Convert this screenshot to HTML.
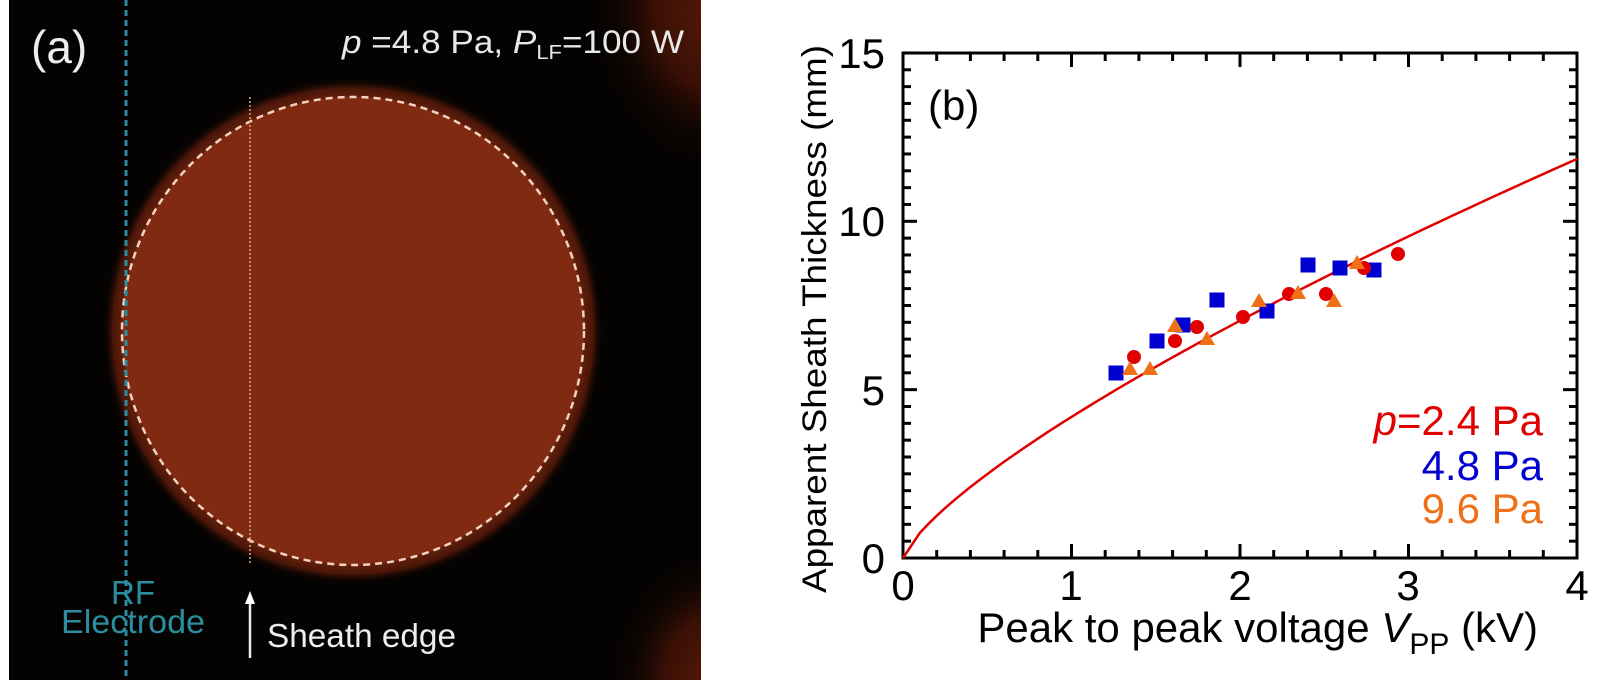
<!DOCTYPE html>
<html><head><meta charset="utf-8"><style>
html,body{margin:0;background:#fff;width:1600px;height:680px;overflow:hidden}
svg{display:block}
text{font-family:"Liberation Sans",Arial,sans-serif}
</style></head><body>
<svg width="1600" height="680" viewBox="0 0 1600 680">
<defs>
<radialGradient id="glow" cx="0.5" cy="0.5" r="0.5">
<stop offset="0.88" stop-color="#7f2a10"/>
<stop offset="0.96" stop-color="#4a1608"/>
<stop offset="1" stop-color="#0a0302" stop-opacity="0"/>
</radialGradient>
<radialGradient id="corner" cx="0.5" cy="0.5" r="0.5">
<stop offset="0" stop-color="#5a1a08"/>
<stop offset="0.5" stop-color="#3a1005"/>
<stop offset="1" stop-color="#050302" stop-opacity="0"/>
</radialGradient>
<clipPath id="pa"><rect x="9" y="0" width="692" height="680"/></clipPath>
</defs>
<g clip-path="url(#pa)">
<rect x="9" y="0" width="692" height="680" fill="#050302"/>
<ellipse cx="720" cy="10" rx="130" ry="160" fill="url(#corner)"/>
<ellipse cx="720" cy="680" rx="110" ry="130" fill="url(#corner)"/>
<ellipse cx="353" cy="331" rx="250" ry="253" fill="url(#glow)"/>
<ellipse cx="353" cy="331" rx="231" ry="234" fill="#802b11"/>
<ellipse cx="353" cy="331" rx="231" ry="234" fill="none" stroke="#f3d2c2" stroke-width="2.5" stroke-dasharray="7 5"/>
<line x1="126" y1="0" x2="126" y2="680" stroke="#2a8ea0" stroke-width="3" stroke-dasharray="6 4"/>
<line x1="250" y1="97" x2="250" y2="565" stroke="#d9a890" stroke-width="1.5" stroke-dasharray="2 2"/>
<line x1="250" y1="600" x2="250" y2="658" stroke="#e8e8e8" stroke-width="2.5"/>
<polygon points="245,604 255,604 250,591" fill="#fff"/>
<text x="31" y="63" font-size="46" fill="#eee">(a)</text>
<text x="342" y="53" font-size="32" fill="#e8e8e8" textLength="342" lengthAdjust="spacingAndGlyphs"><tspan font-style="italic">p</tspan> =4.8 Pa, <tspan font-style="italic">P</tspan><tspan font-size="20" dy="6">LF</tspan><tspan dy="-6">=100 W</tspan></text>
<text x="133" y="604" font-size="33" fill="#2a8ea0" text-anchor="middle">RF</text>
<text x="61" y="633" font-size="33" fill="#2a8ea0" textLength="144" lengthAdjust="spacingAndGlyphs">Electrode</text>
<text x="267" y="647" font-size="33" fill="#eee" textLength="189" lengthAdjust="spacingAndGlyphs">Sheath edge</text>
</g>

<rect x="903" y="53" width="674" height="505" fill="none" stroke="#000" stroke-width="3"/>
<g id="ticks" stroke="#000" stroke-width="3"></g>
<path id="curve" fill="none" stroke="#e00000" stroke-width="2.5"/>
<g id="pts"></g>
<g font-size="42" fill="#000">
<text x="885" y="68" text-anchor="end">15</text>
<text x="885" y="236" text-anchor="end">10</text>
<text x="885" y="405" text-anchor="end">5</text>
<text x="885" y="573" text-anchor="end">0</text>
<text x="903" y="600" text-anchor="middle">0</text>
<text x="1071" y="600" text-anchor="middle">1</text>
<text x="1240" y="600" text-anchor="middle">2</text>
<text x="1408" y="600" text-anchor="middle">3</text>
<text x="1577" y="600" text-anchor="middle">4</text>
<text x="928" y="120">(b)</text>
<text x="1538" y="642" text-anchor="end">Peak to peak voltage <tspan font-style="italic">V</tspan><tspan font-size="30" dy="12">PP</tspan><tspan dy="-12"> (kV)</tspan></text>
<text transform="translate(826,319) rotate(-90)" text-anchor="middle" font-size="34" textLength="548" lengthAdjust="spacingAndGlyphs">Apparent Sheath Thickness (mm)</text>
<text x="1543" y="435" text-anchor="end" fill="#e00000"><tspan font-style="italic">p</tspan>=2.4 Pa</text>
<text x="1543" y="480" text-anchor="end" fill="#0000d0">4.8 Pa</text>
<text x="1543" y="523" text-anchor="end" fill="#f07018">9.6 Pa</text>
</g>
</svg>
<script>
const X=x=>903+168.5*x, Y=y=>558-33.67*y;
let t=document.getElementById('ticks'),s='';
function ln(a,b,c,d){s+=`<line x1="${a}" y1="${b}" x2="${c}" y2="${d}"/>`;}
for(let i=0;i<=20;i++){let x=X(i*0.2),L=i%5==0?14:8;ln(x,558,x,558-L);ln(x,53,x,53+L);}
for(let i=0;i<=30;i++){let y=Y(i*0.5),L=i%10==0?14:8;ln(903,y,903+L,y);ln(1577,y,1577-L,y);}
t.innerHTML=s;
let d=`M903 558 L${X(0.1)} ${Y(4.19*Math.pow(0.1,0.75))}`;
for(let x=0.15;x<=4.001;x+=0.05)d+=` L${X(x).toFixed(1)} ${Y(4.19*Math.pow(x,0.75)).toFixed(1)}`;
document.getElementById('curve').setAttribute('d',d);
let p='';
const sq=[[1116,373],[1157,341],[1183,325],[1217,300],[1267,311],[1308,265],[1340,268],[1374,270]];
const ci=[[1134,357],[1175,341],[1197,327],[1243,317],[1289,294],[1326,294],[1364,268],[1398,254]];
const tr=[[1130,369],[1150,369],[1175,326],[1207,339],[1259,301],[1298,293],[1334,301],[1357,263]];
sq.forEach(([x,y])=>p+=`<rect x="${x-7.5}" y="${y-7.5}" width="15" height="15" fill="#0000d0"/>`);
ci.forEach(([x,y])=>p+=`<circle cx="${x}" cy="${y}" r="7" fill="#e00000"/>`);
tr.forEach(([x,y])=>p+=`<polygon points="${x-8},${y+6} ${x+8},${y+6} ${x},${y-8}" fill="#f07018"/>`);
document.getElementById('pts').innerHTML=p;
</script>
</body></html>
